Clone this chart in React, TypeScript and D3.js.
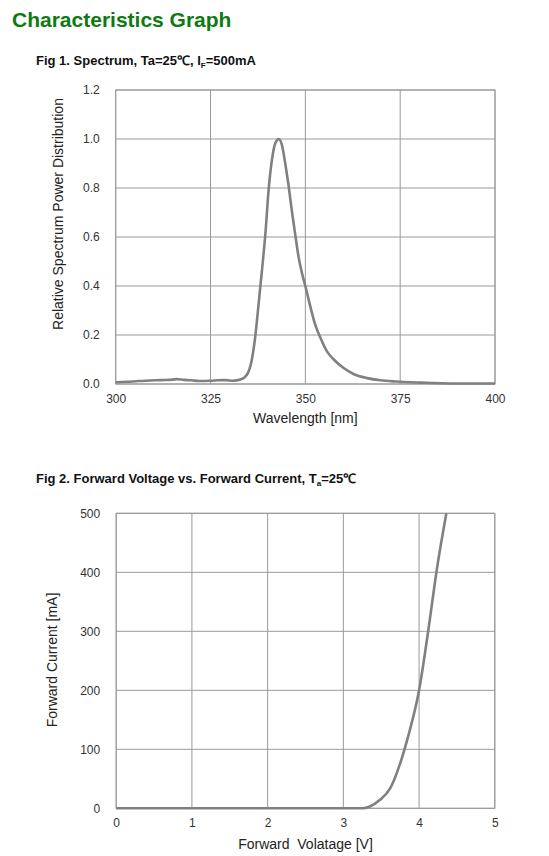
import React, { FC, useRef, useEffect, useMemo } from "react";
import * as d3 from "d3";

// Fig 1 spectrum (wavelength nm -> relative power)
const waveNm = [
  300, 303, 306, 309, 312, 315, 316, 318, 320, 322, 325, 327, 329, 331, 332.9,
  334.6, 335.9, 336.8, 337.7, 338.6, 339.5, 340.3, 341.2, 342.1, 343.0, 343.8,
  344.7, 345.6, 346.5, 347.4, 348.2, 349.1, 350, 351.3, 352.6, 354.0, 355.7,
  357.5, 360.1, 362.7, 366.3, 369.8, 374.2, 378, 382, 386, 390, 395, 400,
];
const relPower = [
  0.007, 0.009, 0.012, 0.014, 0.016, 0.018, 0.02, 0.017, 0.015, 0.012, 0.013,
  0.015, 0.016, 0.013, 0.018, 0.038, 0.1, 0.195, 0.33, 0.47, 0.62, 0.79, 0.916,
  0.984, 1.0, 0.977, 0.9, 0.807, 0.7, 0.603, 0.52, 0.453, 0.4, 0.317, 0.242,
  0.188, 0.133, 0.1, 0.065, 0.041, 0.024, 0.015, 0.01, 0.007, 0.005, 0.003,
  0.002, 0.002, 0.002,
];
const waveTicks = [300, 325, 350, 375, 400];
const powerTicks = [0, 0.2, 0.4, 0.6, 0.8, 1.0, 1.2];

// Fig 2 forward voltage (V) -> forward current (mA)
const voltV = [0, 1, 2, 3.0, 3.25, 3.35, 3.48, 3.62, 3.75, 3.86, 4.0, 4.12, 4.23, 4.36];
const currentMA = [0, 0, 0, 0, 0, 3, 14, 34, 76, 124, 200, 300, 401, 500];
const voltTicks = [0, 1, 2, 3, 4, 5];
const currentTicks = [0, 100, 200, 300, 400, 500];

const FONT = "'Liberation Sans', Arial, sans-serif";
const GRID = "#999";

type PlotProps = {
  left: number;
  right: number;
  top: number;
  bottom: number;
  xDomain: [number, number];
  yDomain: [number, number];
  xTicks: number[];
  yTicks: number[];
  xFormat: (v: number) => string;
  yFormat: (v: number) => string;
  xs: number[];
  ys: number[];
  xLabel: string;
  yLabel: string;
  yLabelX: number;
  yLabelY: number;
  xLabelY: number;
};

const Plot: FC<PlotProps> = (p) => {
  const gx = useRef<SVGGElement>(null);
  const gy = useRef<SVGGElement>(null);

  const x = useMemo(() => d3.scaleLinear(p.xDomain, [p.left, p.right]), [p]);
  const y = useMemo(() => d3.scaleLinear(p.yDomain, [p.bottom, p.top]), [p]);

  const pathD = useMemo(() => {
    const pts: [number, number][] = p.xs.map((v, i) => [v, p.ys[i]]);
    return d3
      .line<[number, number]>()
      .x((d) => x(d[0]))
      .y((d) => y(d[1]))
      .curve(d3.curveMonotoneX)(pts);
  }, [p, x, y]);

  useEffect(() => {
    const g = d3.select(gx.current!);
    g.call(
      d3.axisBottom(x).tickValues(p.xTicks).tickSize(0).tickPadding(10).tickFormat((d: any) => p.xFormat(d))
    );
    g.select(".domain").remove();
    g.selectAll("text").attr("fill", "#333").style("font", `12px ${FONT}`);
  }, [x, p]);

  useEffect(() => {
    const g = d3.select(gy.current!);
    g.call(
      d3.axisLeft(y).tickValues(p.yTicks).tickSize(0).tickPadding(16).tickFormat((d: any) => p.yFormat(d))
    );
    g.select(".domain").remove();
    g.selectAll("text").attr("fill", "#333").style("font", `12px ${FONT}`);
  }, [y, p]);

  return (
    <g>
      {p.xTicks.map((t) => (
        <line key={"vx" + t} x1={x(t)} x2={x(t)} y1={p.top} y2={p.bottom} stroke={GRID} />
      ))}
      {p.yTicks.map((t) => (
        <line key={"hy" + t} x1={p.left} x2={p.right} y1={y(t)} y2={y(t)} stroke={GRID} />
      ))}
      <rect x={p.left} y={p.top} width={p.right - p.left} height={p.bottom - p.top} fill="none" stroke={GRID} />
      <path d={pathD ?? ""} fill="none" stroke="#808080" strokeWidth={2.6} strokeLinejoin="round" />
      <g ref={gx} transform={`translate(0,${p.bottom})`} />
      <g ref={gy} transform={`translate(${p.left},0)`} />
      <text
        x={(p.left + p.right) / 2}
        y={p.xLabelY}
        textAnchor="middle"
        fill="#222"
        style={{ font: `14px ${FONT}`, whiteSpace: "pre" }}
      >
        {p.xLabel}
      </text>
      <text
        transform={`translate(${p.yLabelX},${p.yLabelY}) rotate(-90)`}
        textAnchor="middle"
        fill="#222"
        style={{ font: `14px ${FONT}` }}
      >
        {p.yLabel}
      </text>
    </g>
  );
};

const fmt1 = d3.format(".1f");
const fmt0 = d3.format("d");

export default function App() {
  return (
    <svg
      width={549}
      height={856}
      style={{ position: "absolute", top: 0, left: 0, background: "#fff" }}
    >
      <text x={12} y={27} fill="#0f7a12" style={{ font: `bold 21px ${FONT}` }}>
        Characteristics Graph
      </text>
      <text x={36} y={65} fill="#111" style={{ font: `bold 13px ${FONT}` }}>
        Fig 1. Spectrum, Ta=25℃, I
        <tspan dy={3} style={{ fontSize: "8px" }}>F</tspan>
        <tspan dy={-3}>=500mA</tspan>
      </text>
      <Plot
        left={115.7}
        right={495}
        top={90}
        bottom={384}
        xDomain={[300, 400]}
        yDomain={[0, 1.2]}
        xTicks={waveTicks}
        yTicks={powerTicks}
        xFormat={fmt0}
        yFormat={fmt1}
        xs={waveNm}
        ys={relPower}
        xLabel="Wavelength [nm]"
        yLabel="Relative Spectrum Power Distribution"
        yLabelX={63}
        yLabelY={214}
        xLabelY={423}
      />
      <text x={36} y={483} fill="#111" style={{ font: `bold 13px ${FONT}` }}>
        Fig 2. Forward Voltage vs. Forward Current, T
        <tspan dy={3} style={{ fontSize: "8px" }}>a</tspan>
        <tspan dy={-3}>=25℃</tspan>
      </text>
      <Plot
        left={116.2}
        right={494.8}
        top={513.3}
        bottom={808.3}
        xDomain={[0, 5]}
        yDomain={[0, 500]}
        xTicks={voltTicks}
        yTicks={currentTicks}
        xFormat={fmt0}
        yFormat={fmt0}
        xs={voltV}
        ys={currentMA}
        xLabel="Forward  Volatage [V]"
        yLabel="Forward Current [mA]"
        yLabelX={57}
        yLabelY={660}
        xLabelY={849}
      />
    </svg>
  );
}
